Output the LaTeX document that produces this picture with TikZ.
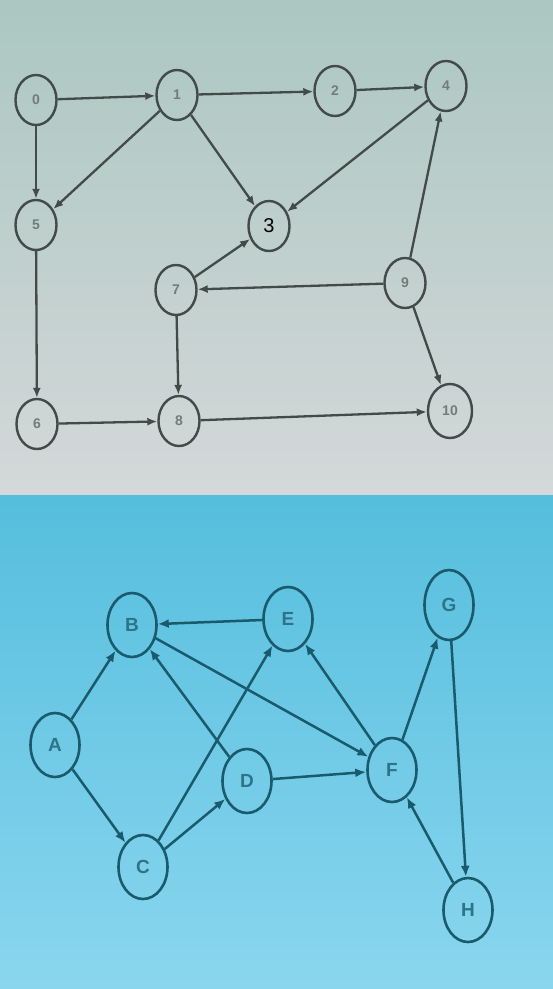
\documentclass[tikz,border=0pt]{standalone}
\usepackage{fontspec}
\setmainfont{Liberation Sans}
\usetikzlibrary{arrows.meta,shapes.geometric}
\definecolor{topA}{HTML}{ABC7C1}
\definecolor{topB}{HTML}{D4D8D9}
\definecolor{botA}{HTML}{55BEDD}
\definecolor{botB}{HTML}{8AD6EF}
\definecolor{gline}{HTML}{434B49}
\definecolor{gtext}{HTML}{737C7A}
\definecolor{bline}{HTML}{195A6D}
\definecolor{btext}{HTML}{2E7488}
\tikzset{
  gnode/.style={ellipse,draw=gline,line width=2.4pt,inner sep=0pt,minimum width=41pt,minimum height=50pt,
    text=gtext,font=\fontsize{14}{14}\selectfont\bfseries},
  bnode/.style={ellipse,draw=bline,line width=2.6pt,inner sep=0pt,minimum width=49pt,minimum height=64pt,
    text=btext,font=\fontsize{19}{19}\selectfont\bfseries},
  garr/.style={draw=gline,line width=2.3pt,-{Latex[length=10pt,width=8pt]}},
  barr/.style={draw=bline,line width=2.5pt,-{Latex[length=11pt,width=9pt]}}
}
\begin{document}
\begin{tikzpicture}[x=1pt,y=-1pt]
\useasboundingbox (0,0) rectangle (553,989);
\shade[top color=topA,bottom color=topB] (0,0) rectangle (553,495);
\shade[top color=botA,bottom color=botB] (0,495) rectangle (553,989);
% top graph
\node[gnode] (n0) at (36,100) {0};
\node[gnode] (n1) at (177,95) {1};
\node[gnode] (n2) at (335,91) {2};
\node[gnode] (n4) at (446,86) {4};
\node[gnode] (n5) at (36,225) {5};
\node[gnode,text=black,font=\fontsize{20}{20}\selectfont] (n3) at (269,226) {3};
\node[gnode] (n7) at (176,290) {7};
\node[gnode] (n9) at (405,283) {9};
\node[gnode] (n6) at (37,424) {6};
\node[gnode] (n8) at (179,421) {8};
\node[gnode,minimum width=44pt,minimum height=54pt] (n10) at (450,411) {10};
\draw[garr] (n0) -- (n1);
\draw[garr] (n1) -- (n2);
\draw[garr] (n2) -- (n4);
\draw[garr] (n0) -- (n5);
\draw[garr] (n1) -- (n5);
\draw[garr] (n1) -- (n3);
\draw[garr] (n4) -- (n3);
\draw[garr] (n9) -- (n4);
\draw[garr] (n7) -- (n3);
\draw[garr] (n9) -- (n7);
\draw[garr] (n7) -- (n8);
\draw[garr] (n5) -- (n6);
\draw[garr] (n6) -- (n8);
\draw[garr] (n8) -- (n10);
\draw[garr] (n9) -- (n10);
% bottom graph
\node[bnode] (B) at (132,625) {B};
\node[bnode] (E) at (288,619) {E};
\node[bnode,minimum height=70pt] (G) at (449,605) {G};
\node[bnode] (A) at (55,745) {A};
\node[bnode] (D) at (247,781) {D};
\node[bnode] (F) at (392,770) {F};
\node[bnode] (C) at (143,867) {C};
\node[bnode] (H) at (468,910) {H};
\draw[barr] (A) -- (B);
\draw[barr] (A) -- (C);
\draw[barr] (E) -- (B);
\draw[barr] (B) -- (F);
\draw[barr] (C) -- (E);
\draw[barr] (C) -- (D);
\draw[barr] (D) -- (B);
\draw[barr] (D) -- (F);
\draw[barr] (F) -- (E);
\draw[barr] (F) -- (G);
\draw[barr] (G) -- (H);
\draw[barr] (H) -- (F);
\end{tikzpicture}
\end{document}
